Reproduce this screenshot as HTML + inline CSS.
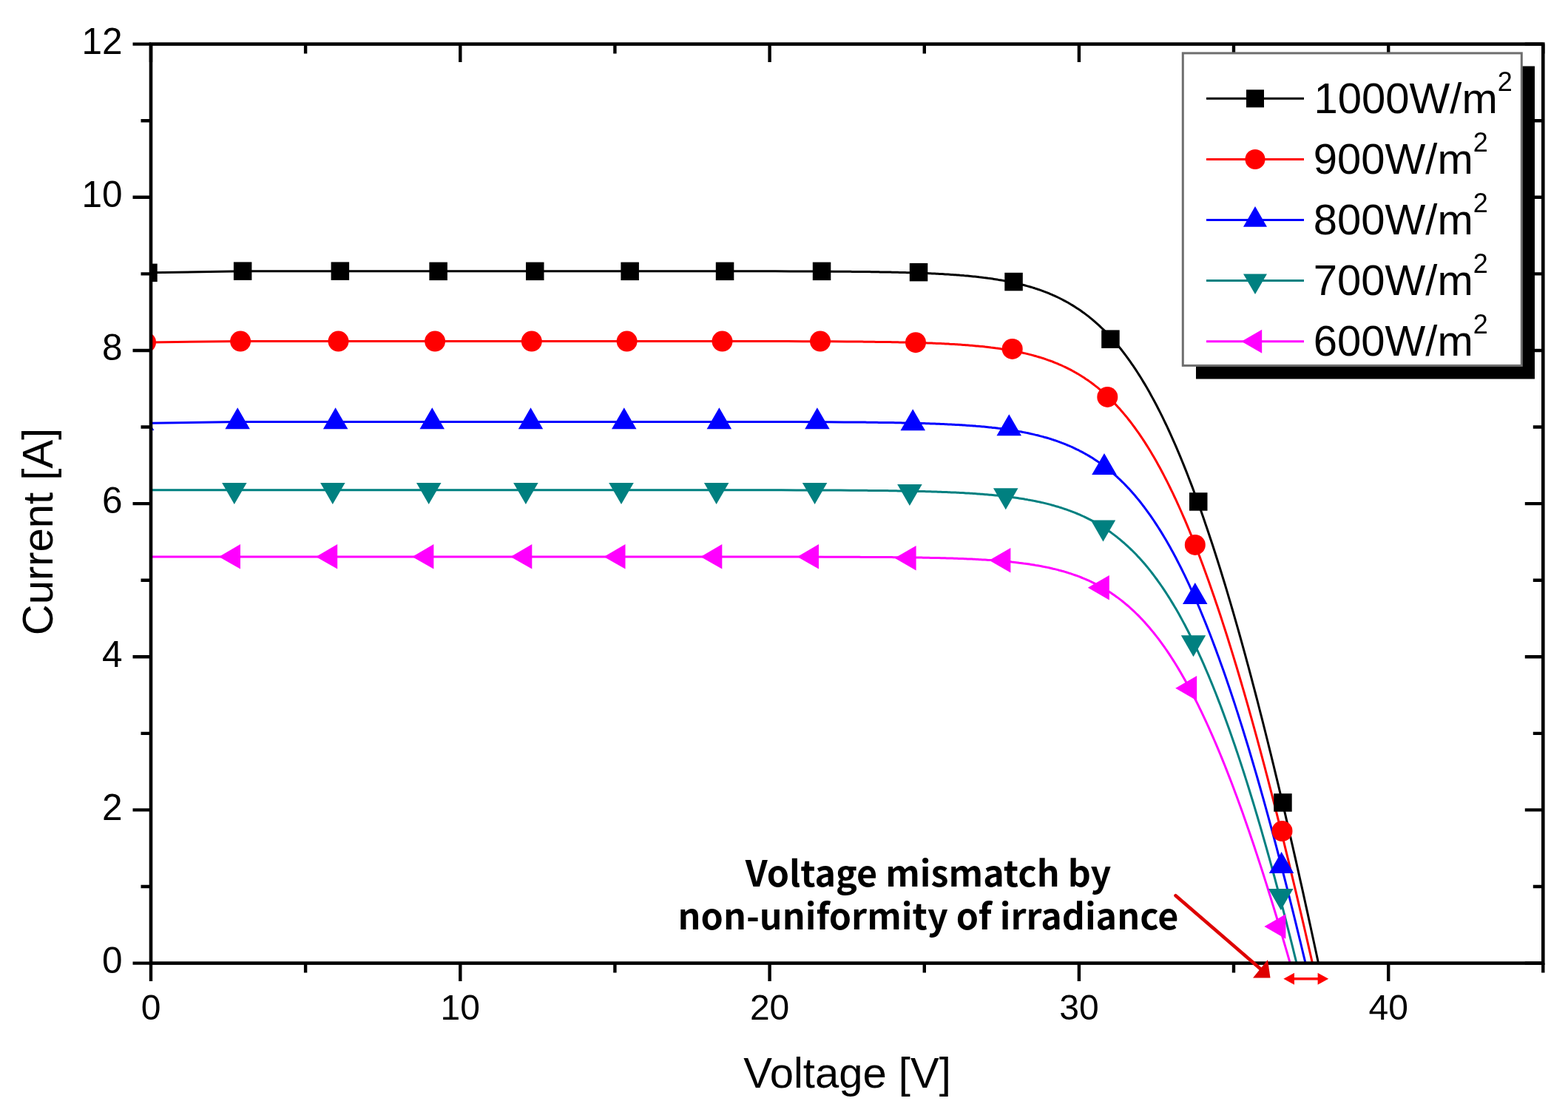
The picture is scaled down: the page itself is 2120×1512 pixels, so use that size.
<!DOCTYPE html><html><head><meta charset="utf-8"><title>I-V curves</title><style>html,body{margin:0;padding:0;background:#fff;overflow:hidden}svg{display:block}</style></head><body>
<svg width="2120" height="1512" viewBox="0 0 2120 1512">
<rect width="2120" height="1512" fill="#fff"/>
<defs><clipPath id="pc"><rect x="204.0" y="59.6" width="1882.3" height="1243.0"/></clipPath></defs>
<g clip-path="url(#pc)" fill="none" stroke-width="3" stroke-linejoin="round">
<path d="M200.5,368.8 L328.2,366.7 L348.2,366.7 L368.2,366.7 L388.2,366.7 L408.2,366.7 L428.2,366.7 L448.2,366.7 L468.2,366.7 L488.2,366.7 L508.2,366.7 L528.2,366.7 L548.2,366.7 L568.2,366.7 L588.2,366.7 L608.2,366.7 L628.2,366.7 L648.2,366.7 L668.2,366.7 L688.2,366.7 L708.2,366.7 L728.2,366.7 L748.2,366.7 L768.2,366.7 L788.2,366.7 L808.2,366.7 L828.2,366.7 L848.2,366.7 L868.2,366.7 L888.2,366.7 L908.2,366.7 L928.2,366.7 L948.2,366.7 L968.2,366.7 L988.2,366.7 L1008.2,366.8 L1028.2,366.8 L1048.2,366.8 L1068.2,366.9 L1088.2,366.9 L1108.2,367.0 L1128.2,367.2 L1148.2,367.3 L1150.0,367.3 L1152.0,367.4 L1154.0,367.4 L1156.0,367.4 L1158.0,367.4 L1160.0,367.4 L1162.0,367.5 L1164.0,367.5 L1166.0,367.5 L1168.0,367.5 L1170.0,367.6 L1172.0,367.6 L1174.0,367.6 L1176.0,367.6 L1178.0,367.7 L1180.0,367.7 L1182.0,367.7 L1184.0,367.8 L1186.0,367.8 L1188.0,367.8 L1190.0,367.9 L1192.0,367.9 L1194.0,367.9 L1196.0,368.0 L1198.0,368.0 L1200.0,368.0 L1202.0,368.1 L1204.0,368.1 L1206.0,368.2 L1208.0,368.2 L1210.0,368.2 L1212.0,368.3 L1214.0,368.3 L1216.0,368.4 L1218.0,368.4 L1220.0,368.5 L1222.0,368.5 L1224.0,368.6 L1226.0,368.7 L1228.0,368.7 L1230.0,368.8 L1232.0,368.8 L1234.0,368.9 L1236.0,369.0 L1238.0,369.0 L1240.0,369.1 L1242.0,369.2 L1244.0,369.2 L1246.0,369.3 L1248.0,369.4 L1250.0,369.5 L1252.0,369.6 L1254.0,369.6 L1256.0,369.7 L1258.0,369.8 L1260.0,369.9 L1262.0,370.0 L1264.0,370.1 L1266.0,370.2 L1268.0,370.3 L1270.0,370.4 L1272.0,370.5 L1274.0,370.6 L1276.0,370.7 L1278.0,370.9 L1280.0,371.0 L1282.0,371.1 L1284.0,371.2 L1286.0,371.4 L1288.0,371.5 L1290.0,371.7 L1292.0,371.8 L1294.0,371.9 L1296.0,372.1 L1298.0,372.3 L1300.0,372.4 L1302.0,372.6 L1304.0,372.8 L1306.0,372.9 L1308.0,373.1 L1310.0,373.3 L1312.0,373.5 L1314.0,373.7 L1316.0,373.9 L1318.0,374.1 L1320.0,374.3 L1322.0,374.5 L1324.0,374.8 L1326.0,375.0 L1328.0,375.2 L1330.0,375.5 L1332.0,375.7 L1334.0,376.0 L1336.0,376.3 L1338.0,376.5 L1340.0,376.8 L1342.0,377.1 L1344.0,377.4 L1346.0,377.7 L1348.0,378.0 L1350.0,378.4 L1352.0,378.7 L1354.0,379.0 L1356.0,379.4 L1358.0,379.8 L1360.0,380.1 L1362.0,380.5 L1364.0,380.9 L1366.0,381.3 L1368.0,381.7 L1370.0,382.2 L1372.0,382.6 L1374.0,383.0 L1376.0,383.5 L1378.0,384.0 L1380.0,384.5 L1382.0,385.0 L1384.0,385.5 L1386.0,386.0 L1388.0,386.6 L1390.0,387.1 L1392.0,387.7 L1394.0,388.3 L1396.0,388.9 L1398.0,389.5 L1400.0,390.2 L1402.0,390.8 L1404.0,391.5 L1406.0,392.2 L1408.0,392.9 L1410.0,393.6 L1412.0,394.4 L1414.0,395.1 L1416.0,395.9 L1418.0,396.7 L1420.0,397.6 L1422.0,398.4 L1424.0,399.3 L1426.0,400.2 L1428.0,401.1 L1430.0,402.0 L1432.0,403.0 L1434.0,404.0 L1436.0,405.0 L1438.0,406.1 L1440.0,407.1 L1442.0,408.2 L1444.0,409.3 L1446.0,410.5 L1448.0,411.7 L1450.0,412.9 L1452.0,414.1 L1454.0,415.4 L1456.0,416.7 L1458.0,418.0 L1460.0,419.3 L1462.0,420.7 L1464.0,422.2 L1466.0,423.6 L1468.0,425.1 L1470.0,426.6 L1472.0,428.2 L1474.0,429.8 L1476.0,431.4 L1478.0,433.1 L1480.0,434.8 L1482.0,436.6 L1484.0,438.4 L1486.0,440.2 L1488.0,442.1 L1490.0,444.0 L1492.0,445.9 L1494.0,447.9 L1496.0,450.0 L1498.0,452.0 L1500.0,454.2 L1502.0,456.3 L1504.0,458.6 L1506.0,460.8 L1508.0,463.1 L1510.0,465.5 L1512.0,467.9 L1514.0,470.3 L1516.0,472.8 L1518.0,475.4 L1520.0,478.0 L1522.0,480.6 L1524.0,483.3 L1526.0,486.1 L1528.0,488.9 L1530.0,491.8 L1532.0,494.7 L1534.0,497.6 L1536.0,500.6 L1538.0,503.7 L1540.0,506.9 L1542.0,510.0 L1544.0,513.3 L1546.0,516.6 L1548.0,519.9 L1550.0,523.3 L1552.0,526.8 L1554.0,530.3 L1556.0,533.9 L1558.0,537.6 L1560.0,541.3 L1562.0,545.0 L1564.0,548.8 L1566.0,552.7 L1568.0,556.6 L1570.0,560.6 L1572.0,564.7 L1574.0,568.8 L1576.0,573.0 L1578.0,577.2 L1580.0,581.5 L1582.0,585.9 L1584.0,590.3 L1586.0,594.8 L1588.0,599.3 L1590.0,603.9 L1592.0,608.6 L1594.0,613.3 L1596.0,618.1 L1598.0,623.0 L1600.0,627.9 L1602.0,632.9 L1604.0,637.9 L1606.0,643.0 L1608.0,648.2 L1610.0,653.4 L1612.0,658.6 L1614.0,664.0 L1616.0,669.4 L1618.0,674.8 L1620.0,680.4 L1622.0,685.9 L1624.0,691.6 L1626.0,697.3 L1628.0,703.0 L1630.0,708.9 L1632.0,714.7 L1634.0,720.7 L1636.0,726.7 L1638.0,732.7 L1640.0,738.8 L1642.0,745.0 L1644.0,751.2 L1646.0,757.5 L1648.0,763.9 L1650.0,770.3 L1652.0,776.7 L1654.0,783.2 L1656.0,789.8 L1658.0,796.4 L1660.0,803.1 L1662.0,809.9 L1664.0,816.6 L1666.0,823.5 L1668.0,830.4 L1670.0,837.3 L1672.0,844.3 L1674.0,851.4 L1676.0,858.5 L1678.0,865.7 L1680.0,872.9 L1682.0,880.1 L1684.0,887.4 L1686.0,894.8 L1688.0,902.2 L1690.0,909.7 L1692.0,917.2 L1694.0,924.8 L1696.0,932.4 L1698.0,940.0 L1700.0,947.7 L1702.0,955.5 L1704.0,963.3 L1706.0,971.1 L1708.0,979.0 L1710.0,987.0 L1712.0,995.0 L1714.0,1003.0 L1716.0,1011.1 L1718.0,1019.2 L1720.0,1027.3 L1722.0,1035.5 L1724.0,1043.8 L1726.0,1052.1 L1728.0,1060.4 L1730.0,1068.8 L1732.0,1077.2 L1734.0,1085.7 L1736.0,1094.2 L1738.0,1102.7 L1740.0,1111.3 L1742.0,1119.9 L1744.0,1128.6 L1746.0,1137.3 L1748.0,1146.0 L1750.0,1154.8 L1752.0,1163.6 L1754.0,1172.5 L1756.0,1181.3 L1758.0,1190.3 L1760.0,1199.2 L1762.0,1208.2 L1764.0,1217.3 L1766.0,1226.3 L1768.0,1235.4 L1770.0,1244.6 L1772.0,1253.8 L1774.0,1263.0 L1776.0,1272.2 L1778.0,1281.5 L1780.0,1290.8 L1782.0,1300.1 L1784.0,1309.5 L1786.0,1318.9" stroke="#000000"/>
<path d="M197.0,463.0 L325.1,461.5 L345.1,461.5 L365.1,461.5 L385.1,461.5 L405.1,461.5 L425.1,461.5 L445.1,461.5 L465.1,461.5 L485.1,461.5 L505.1,461.5 L525.1,461.5 L545.1,461.5 L565.1,461.5 L585.1,461.5 L605.1,461.5 L625.1,461.5 L645.1,461.5 L665.1,461.5 L685.1,461.5 L705.1,461.5 L725.1,461.5 L745.1,461.5 L765.1,461.5 L785.1,461.5 L805.1,461.5 L825.1,461.5 L845.1,461.5 L865.1,461.5 L885.1,461.5 L905.1,461.5 L925.1,461.5 L945.1,461.5 L965.1,461.5 L985.1,461.5 L1005.1,461.5 L1025.1,461.6 L1045.1,461.6 L1065.1,461.6 L1085.1,461.7 L1105.1,461.7 L1125.1,461.8 L1145.1,462.0 L1150.0,462.0 L1152.0,462.0 L1154.0,462.0 L1156.0,462.1 L1158.0,462.1 L1160.0,462.1 L1162.0,462.1 L1164.0,462.1 L1166.0,462.1 L1168.0,462.2 L1170.0,462.2 L1172.0,462.2 L1174.0,462.2 L1176.0,462.3 L1178.0,462.3 L1180.0,462.3 L1182.0,462.3 L1184.0,462.4 L1186.0,462.4 L1188.0,462.4 L1190.0,462.4 L1192.0,462.5 L1194.0,462.5 L1196.0,462.5 L1198.0,462.5 L1200.0,462.6 L1202.0,462.6 L1204.0,462.6 L1206.0,462.7 L1208.0,462.7 L1210.0,462.8 L1212.0,462.8 L1214.0,462.8 L1216.0,462.9 L1218.0,462.9 L1220.0,463.0 L1222.0,463.0 L1224.0,463.0 L1226.0,463.1 L1228.0,463.1 L1230.0,463.2 L1232.0,463.2 L1234.0,463.3 L1236.0,463.4 L1238.0,463.4 L1240.0,463.5 L1242.0,463.5 L1244.0,463.6 L1246.0,463.6 L1248.0,463.7 L1250.0,463.8 L1252.0,463.8 L1254.0,463.9 L1256.0,464.0 L1258.0,464.1 L1260.0,464.1 L1262.0,464.2 L1264.0,464.3 L1266.0,464.4 L1268.0,464.5 L1270.0,464.6 L1272.0,464.6 L1274.0,464.7 L1276.0,464.8 L1278.0,464.9 L1280.0,465.0 L1282.0,465.1 L1284.0,465.3 L1286.0,465.4 L1288.0,465.5 L1290.0,465.6 L1292.0,465.7 L1294.0,465.8 L1296.0,466.0 L1298.0,466.1 L1300.0,466.2 L1302.0,466.4 L1304.0,466.5 L1306.0,466.7 L1308.0,466.8 L1310.0,467.0 L1312.0,467.2 L1314.0,467.3 L1316.0,467.5 L1318.0,467.7 L1320.0,467.9 L1322.0,468.0 L1324.0,468.2 L1326.0,468.4 L1328.0,468.6 L1330.0,468.8 L1332.0,469.1 L1334.0,469.3 L1336.0,469.5 L1338.0,469.7 L1340.0,470.0 L1342.0,470.2 L1344.0,470.5 L1346.0,470.8 L1348.0,471.0 L1350.0,471.3 L1352.0,471.6 L1354.0,471.9 L1356.0,472.2 L1358.0,472.5 L1360.0,472.8 L1362.0,473.2 L1364.0,473.5 L1366.0,473.8 L1368.0,474.2 L1370.0,474.6 L1372.0,475.0 L1374.0,475.3 L1376.0,475.7 L1378.0,476.2 L1380.0,476.6 L1382.0,477.0 L1384.0,477.5 L1386.0,477.9 L1388.0,478.4 L1390.0,478.9 L1392.0,479.4 L1394.0,479.9 L1396.0,480.4 L1398.0,481.0 L1400.0,481.5 L1402.0,482.1 L1404.0,482.7 L1406.0,483.3 L1408.0,483.9 L1410.0,484.5 L1412.0,485.2 L1414.0,485.9 L1416.0,486.6 L1418.0,487.3 L1420.0,488.0 L1422.0,488.7 L1424.0,489.5 L1426.0,490.3 L1428.0,491.1 L1430.0,491.9 L1432.0,492.8 L1434.0,493.6 L1436.0,494.5 L1438.0,495.5 L1440.0,496.4 L1442.0,497.4 L1444.0,498.4 L1446.0,499.4 L1448.0,500.4 L1450.0,501.5 L1452.0,502.6 L1454.0,503.7 L1456.0,504.9 L1458.0,506.0 L1460.0,507.2 L1462.0,508.5 L1464.0,509.7 L1466.0,511.0 L1468.0,512.4 L1470.0,513.7 L1472.0,515.1 L1474.0,516.6 L1476.0,518.0 L1478.0,519.5 L1480.0,521.1 L1482.0,522.6 L1484.0,524.2 L1486.0,525.9 L1488.0,527.6 L1490.0,529.3 L1492.0,531.0 L1494.0,532.8 L1496.0,534.7 L1498.0,536.6 L1500.0,538.5 L1502.0,540.4 L1504.0,542.4 L1506.0,544.5 L1508.0,546.6 L1510.0,548.7 L1512.0,550.9 L1514.0,553.1 L1516.0,555.4 L1518.0,557.7 L1520.0,560.1 L1522.0,562.5 L1524.0,564.9 L1526.0,567.5 L1528.0,570.0 L1530.0,572.6 L1532.0,575.3 L1534.0,578.0 L1536.0,580.8 L1538.0,583.6 L1540.0,586.4 L1542.0,589.4 L1544.0,592.3 L1546.0,595.4 L1548.0,598.4 L1550.0,601.6 L1552.0,604.8 L1554.0,608.0 L1556.0,611.3 L1558.0,614.7 L1560.0,618.1 L1562.0,621.6 L1564.0,625.1 L1566.0,628.7 L1568.0,632.3 L1570.0,636.0 L1572.0,639.8 L1574.0,643.6 L1576.0,647.5 L1578.0,651.4 L1580.0,655.4 L1582.0,659.5 L1584.0,663.6 L1586.0,667.7 L1588.0,672.0 L1590.0,676.2 L1592.0,680.6 L1594.0,685.0 L1596.0,689.5 L1598.0,694.0 L1600.0,698.6 L1602.0,703.2 L1604.0,707.9 L1606.0,712.7 L1608.0,717.5 L1610.0,722.4 L1612.0,727.3 L1614.0,732.3 L1616.0,737.4 L1618.0,742.5 L1620.0,747.7 L1622.0,752.9 L1624.0,758.2 L1626.0,763.6 L1628.0,769.0 L1630.0,774.5 L1632.0,780.0 L1634.0,785.6 L1636.0,791.2 L1638.0,796.9 L1640.0,802.7 L1642.0,808.5 L1644.0,814.4 L1646.0,820.3 L1648.0,826.3 L1650.0,832.3 L1652.0,838.4 L1654.0,844.6 L1656.0,850.8 L1658.0,857.0 L1660.0,863.3 L1662.0,869.7 L1664.0,876.1 L1666.0,882.6 L1668.0,889.1 L1670.0,895.7 L1672.0,902.3 L1674.0,909.0 L1676.0,915.7 L1678.0,922.5 L1680.0,929.4 L1682.0,936.2 L1684.0,943.2 L1686.0,950.2 L1688.0,957.2 L1690.0,964.3 L1692.0,971.4 L1694.0,978.6 L1696.0,985.8 L1698.0,993.1 L1700.0,1000.4 L1702.0,1007.8 L1704.0,1015.2 L1706.0,1022.6 L1708.0,1030.1 L1710.0,1037.7 L1712.0,1045.3 L1714.0,1052.9 L1716.0,1060.6 L1718.0,1068.3 L1720.0,1076.1 L1722.0,1083.9 L1724.0,1091.7 L1726.0,1099.6 L1728.0,1107.6 L1730.0,1115.5 L1732.0,1123.6 L1734.0,1131.6 L1736.0,1139.7 L1738.0,1147.8 L1740.0,1156.0 L1742.0,1164.2 L1744.0,1172.5 L1746.0,1180.8 L1748.0,1189.1 L1750.0,1197.5 L1752.0,1205.9 L1754.0,1214.3 L1756.0,1222.8 L1758.0,1231.3 L1760.0,1239.8 L1762.0,1248.4 L1764.0,1257.0 L1766.0,1265.7 L1768.0,1274.4 L1770.0,1283.1 L1772.0,1291.8 L1774.0,1300.6 L1776.0,1309.5 L1778.0,1318.3" stroke="#ff0000"/>
<path d="M191.7,572.4 L321.2,570.4 L341.2,570.4 L361.2,570.4 L381.2,570.4 L401.2,570.4 L421.2,570.4 L441.2,570.4 L461.2,570.4 L481.2,570.4 L501.2,570.4 L521.2,570.4 L541.2,570.4 L561.2,570.4 L581.2,570.4 L601.2,570.4 L621.2,570.4 L641.2,570.4 L661.2,570.4 L681.2,570.4 L701.2,570.4 L721.2,570.4 L741.2,570.4 L761.2,570.4 L781.2,570.4 L801.2,570.4 L821.2,570.4 L841.2,570.4 L861.2,570.4 L881.2,570.4 L901.2,570.5 L921.2,570.5 L941.2,570.5 L961.2,570.5 L981.2,570.5 L1001.2,570.5 L1021.2,570.5 L1041.2,570.6 L1061.2,570.6 L1081.2,570.6 L1101.2,570.7 L1121.2,570.8 L1141.2,570.9 L1150.0,571.0 L1152.0,571.0 L1154.0,571.0 L1156.0,571.0 L1158.0,571.0 L1160.0,571.1 L1162.0,571.1 L1164.0,571.1 L1166.0,571.1 L1168.0,571.1 L1170.0,571.1 L1172.0,571.2 L1174.0,571.2 L1176.0,571.2 L1178.0,571.2 L1180.0,571.3 L1182.0,571.3 L1184.0,571.3 L1186.0,571.3 L1188.0,571.4 L1190.0,571.4 L1192.0,571.4 L1194.0,571.4 L1196.0,571.5 L1198.0,571.5 L1200.0,571.5 L1202.0,571.6 L1204.0,571.6 L1206.0,571.6 L1208.0,571.6 L1210.0,571.7 L1212.0,571.7 L1214.0,571.8 L1216.0,571.8 L1218.0,571.8 L1220.0,571.9 L1222.0,571.9 L1224.0,572.0 L1226.0,572.0 L1228.0,572.0 L1230.0,572.1 L1232.0,572.1 L1234.0,572.2 L1236.0,572.2 L1238.0,572.3 L1240.0,572.3 L1242.0,572.4 L1244.0,572.4 L1246.0,572.5 L1248.0,572.6 L1250.0,572.6 L1252.0,572.7 L1254.0,572.8 L1256.0,572.8 L1258.0,572.9 L1260.0,573.0 L1262.0,573.0 L1264.0,573.1 L1266.0,573.2 L1268.0,573.3 L1270.0,573.3 L1272.0,573.4 L1274.0,573.5 L1276.0,573.6 L1278.0,573.7 L1280.0,573.8 L1282.0,573.9 L1284.0,574.0 L1286.0,574.1 L1288.0,574.2 L1290.0,574.3 L1292.0,574.4 L1294.0,574.5 L1296.0,574.6 L1298.0,574.7 L1300.0,574.8 L1302.0,575.0 L1304.0,575.1 L1306.0,575.2 L1308.0,575.4 L1310.0,575.5 L1312.0,575.7 L1314.0,575.8 L1316.0,576.0 L1318.0,576.1 L1320.0,576.3 L1322.0,576.4 L1324.0,576.6 L1326.0,576.8 L1328.0,577.0 L1330.0,577.1 L1332.0,577.3 L1334.0,577.5 L1336.0,577.7 L1338.0,577.9 L1340.0,578.1 L1342.0,578.4 L1344.0,578.6 L1346.0,578.8 L1348.0,579.0 L1350.0,579.3 L1352.0,579.5 L1354.0,579.8 L1356.0,580.1 L1358.0,580.3 L1360.0,580.6 L1362.0,580.9 L1364.0,581.2 L1366.0,581.5 L1368.0,581.8 L1370.0,582.1 L1372.0,582.4 L1374.0,582.8 L1376.0,583.1 L1378.0,583.5 L1380.0,583.8 L1382.0,584.2 L1384.0,584.6 L1386.0,585.0 L1388.0,585.4 L1390.0,585.8 L1392.0,586.2 L1394.0,586.7 L1396.0,587.1 L1398.0,587.6 L1400.0,588.1 L1402.0,588.5 L1404.0,589.0 L1406.0,589.6 L1408.0,590.1 L1410.0,590.6 L1412.0,591.2 L1414.0,591.7 L1416.0,592.3 L1418.0,592.9 L1420.0,593.5 L1422.0,594.2 L1424.0,594.8 L1426.0,595.5 L1428.0,596.2 L1430.0,596.9 L1432.0,597.6 L1434.0,598.3 L1436.0,599.1 L1438.0,599.8 L1440.0,600.6 L1442.0,601.5 L1444.0,602.3 L1446.0,603.1 L1448.0,604.0 L1450.0,604.9 L1452.0,605.8 L1454.0,606.8 L1456.0,607.8 L1458.0,608.7 L1460.0,609.8 L1462.0,610.8 L1464.0,611.9 L1466.0,613.0 L1468.0,614.1 L1470.0,615.2 L1472.0,616.4 L1474.0,617.6 L1476.0,618.8 L1478.0,620.1 L1480.0,621.4 L1482.0,622.7 L1484.0,624.1 L1486.0,625.4 L1488.0,626.9 L1490.0,628.3 L1492.0,629.8 L1494.0,631.3 L1496.0,632.9 L1498.0,634.4 L1500.0,636.1 L1502.0,637.7 L1504.0,639.4 L1506.0,641.1 L1508.0,642.9 L1510.0,644.7 L1512.0,646.6 L1514.0,648.4 L1516.0,650.4 L1518.0,652.3 L1520.0,654.3 L1522.0,656.4 L1524.0,658.5 L1526.0,660.6 L1528.0,662.8 L1530.0,665.0 L1532.0,667.3 L1534.0,669.6 L1536.0,672.0 L1538.0,674.4 L1540.0,676.8 L1542.0,679.3 L1544.0,681.9 L1546.0,684.5 L1548.0,687.1 L1550.0,689.8 L1552.0,692.6 L1554.0,695.3 L1556.0,698.2 L1558.0,701.1 L1560.0,704.0 L1562.0,707.1 L1564.0,710.1 L1566.0,713.2 L1568.0,716.4 L1570.0,719.6 L1572.0,722.9 L1574.0,726.2 L1576.0,729.6 L1578.0,733.0 L1580.0,736.5 L1582.0,740.1 L1584.0,743.7 L1586.0,747.3 L1588.0,751.0 L1590.0,754.8 L1592.0,758.7 L1594.0,762.6 L1596.0,766.5 L1598.0,770.5 L1600.0,774.6 L1602.0,778.7 L1604.0,782.9 L1606.0,787.1 L1608.0,791.4 L1610.0,795.8 L1612.0,800.2 L1614.0,804.7 L1616.0,809.2 L1618.0,813.8 L1620.0,818.5 L1622.0,823.2 L1624.0,828.0 L1626.0,832.8 L1628.0,837.7 L1630.0,842.6 L1632.0,847.6 L1634.0,852.7 L1636.0,857.8 L1638.0,863.0 L1640.0,868.3 L1642.0,873.6 L1644.0,878.9 L1646.0,884.4 L1648.0,889.8 L1650.0,895.4 L1652.0,901.0 L1654.0,906.6 L1656.0,912.3 L1658.0,918.1 L1660.0,923.9 L1662.0,929.8 L1664.0,935.8 L1666.0,941.7 L1668.0,947.8 L1670.0,953.9 L1672.0,960.1 L1674.0,966.3 L1676.0,972.6 L1678.0,978.9 L1680.0,985.3 L1682.0,991.7 L1684.0,998.2 L1686.0,1004.8 L1688.0,1011.3 L1690.0,1018.0 L1692.0,1024.7 L1694.0,1031.5 L1696.0,1038.3 L1698.0,1045.1 L1700.0,1052.0 L1702.0,1059.0 L1704.0,1066.0 L1706.0,1073.1 L1708.0,1080.2 L1710.0,1087.4 L1712.0,1094.6 L1714.0,1101.8 L1716.0,1109.1 L1718.0,1116.5 L1720.0,1123.9 L1722.0,1131.4 L1724.0,1138.9 L1726.0,1146.4 L1728.0,1154.0 L1730.0,1161.6 L1732.0,1169.3 L1734.0,1177.1 L1736.0,1184.8 L1738.0,1192.6 L1740.0,1200.5 L1742.0,1208.4 L1744.0,1216.4 L1746.0,1224.4 L1748.0,1232.4 L1750.0,1240.5 L1752.0,1248.6 L1754.0,1256.8 L1756.0,1265.0 L1758.0,1273.2 L1760.0,1281.5 L1762.0,1289.8 L1764.0,1298.2 L1766.0,1306.6 L1768.0,1315.0" stroke="#0000ff"/>
<path d="M185.0,662.7 L316.8,662.7 L336.8,662.7 L356.8,662.7 L376.8,662.7 L396.8,662.7 L416.8,662.7 L436.8,662.7 L456.8,662.7 L476.8,662.7 L496.8,662.7 L516.8,662.7 L536.8,662.7 L556.8,662.7 L576.8,662.7 L596.8,662.7 L616.8,662.7 L636.8,662.7 L656.8,662.7 L676.8,662.7 L696.8,662.7 L716.8,662.7 L736.8,662.7 L756.8,662.7 L776.8,662.7 L796.8,662.7 L816.8,662.7 L836.8,662.7 L856.8,662.7 L876.8,662.7 L896.8,662.7 L916.8,662.7 L936.8,662.7 L956.8,662.7 L976.8,662.7 L996.8,662.7 L1016.8,662.8 L1036.8,662.8 L1056.8,662.8 L1076.8,662.9 L1096.8,662.9 L1116.8,663.0 L1136.8,663.1 L1150.0,663.2 L1152.0,663.2 L1154.0,663.2 L1156.0,663.2 L1158.0,663.2 L1160.0,663.2 L1162.0,663.3 L1164.0,663.3 L1166.0,663.3 L1168.0,663.3 L1170.0,663.3 L1172.0,663.3 L1174.0,663.4 L1176.0,663.4 L1178.0,663.4 L1180.0,663.4 L1182.0,663.4 L1184.0,663.5 L1186.0,663.5 L1188.0,663.5 L1190.0,663.5 L1192.0,663.5 L1194.0,663.6 L1196.0,663.6 L1198.0,663.6 L1200.0,663.6 L1202.0,663.7 L1204.0,663.7 L1206.0,663.7 L1208.0,663.8 L1210.0,663.8 L1212.0,663.8 L1214.0,663.9 L1216.0,663.9 L1218.0,663.9 L1220.0,664.0 L1222.0,664.0 L1224.0,664.0 L1226.0,664.1 L1228.0,664.1 L1230.0,664.1 L1232.0,664.2 L1234.0,664.2 L1236.0,664.3 L1238.0,664.3 L1240.0,664.4 L1242.0,664.4 L1244.0,664.5 L1246.0,664.5 L1248.0,664.6 L1250.0,664.6 L1252.0,664.7 L1254.0,664.7 L1256.0,664.8 L1258.0,664.8 L1260.0,664.9 L1262.0,665.0 L1264.0,665.0 L1266.0,665.1 L1268.0,665.2 L1270.0,665.2 L1272.0,665.3 L1274.0,665.4 L1276.0,665.4 L1278.0,665.5 L1280.0,665.6 L1282.0,665.7 L1284.0,665.8 L1286.0,665.9 L1288.0,665.9 L1290.0,666.0 L1292.0,666.1 L1294.0,666.2 L1296.0,666.3 L1298.0,666.4 L1300.0,666.5 L1302.0,666.6 L1304.0,666.7 L1306.0,666.9 L1308.0,667.0 L1310.0,667.1 L1312.0,667.2 L1314.0,667.3 L1316.0,667.5 L1318.0,667.6 L1320.0,667.7 L1322.0,667.9 L1324.0,668.0 L1326.0,668.2 L1328.0,668.3 L1330.0,668.5 L1332.0,668.7 L1334.0,668.8 L1336.0,669.0 L1338.0,669.2 L1340.0,669.3 L1342.0,669.5 L1344.0,669.7 L1346.0,669.9 L1348.0,670.1 L1350.0,670.3 L1352.0,670.5 L1354.0,670.8 L1356.0,671.0 L1358.0,671.2 L1360.0,671.4 L1362.0,671.7 L1364.0,671.9 L1366.0,672.2 L1368.0,672.5 L1370.0,672.7 L1372.0,673.0 L1374.0,673.3 L1376.0,673.6 L1378.0,673.9 L1380.0,674.2 L1382.0,674.5 L1384.0,674.8 L1386.0,675.2 L1388.0,675.5 L1390.0,675.9 L1392.0,676.2 L1394.0,676.6 L1396.0,677.0 L1398.0,677.4 L1400.0,677.8 L1402.0,678.2 L1404.0,678.6 L1406.0,679.0 L1408.0,679.5 L1410.0,679.9 L1412.0,680.4 L1414.0,680.9 L1416.0,681.4 L1418.0,681.9 L1420.0,682.4 L1422.0,683.0 L1424.0,683.5 L1426.0,684.1 L1428.0,684.7 L1430.0,685.2 L1432.0,685.9 L1434.0,686.5 L1436.0,687.1 L1438.0,687.8 L1440.0,688.5 L1442.0,689.1 L1444.0,689.9 L1446.0,690.6 L1448.0,691.3 L1450.0,692.1 L1452.0,692.9 L1454.0,693.7 L1456.0,694.5 L1458.0,695.3 L1460.0,696.2 L1462.0,697.1 L1464.0,698.0 L1466.0,698.9 L1468.0,699.9 L1470.0,700.9 L1472.0,701.9 L1474.0,702.9 L1476.0,703.9 L1478.0,705.0 L1480.0,706.1 L1482.0,707.3 L1484.0,708.4 L1486.0,709.6 L1488.0,710.8 L1490.0,712.0 L1492.0,713.3 L1494.0,714.6 L1496.0,716.0 L1498.0,717.3 L1500.0,718.7 L1502.0,720.1 L1504.0,721.6 L1506.0,723.1 L1508.0,724.6 L1510.0,726.2 L1512.0,727.8 L1514.0,729.4 L1516.0,731.1 L1518.0,732.8 L1520.0,734.5 L1522.0,736.3 L1524.0,738.1 L1526.0,740.0 L1528.0,741.9 L1530.0,743.8 L1532.0,745.8 L1534.0,747.8 L1536.0,749.8 L1538.0,752.0 L1540.0,754.1 L1542.0,756.3 L1544.0,758.5 L1546.0,760.8 L1548.0,763.1 L1550.0,765.5 L1552.0,767.9 L1554.0,770.4 L1556.0,772.9 L1558.0,775.5 L1560.0,778.1 L1562.0,780.8 L1564.0,783.5 L1566.0,786.3 L1568.0,789.1 L1570.0,792.0 L1572.0,794.9 L1574.0,797.9 L1576.0,800.9 L1578.0,804.0 L1580.0,807.1 L1582.0,810.3 L1584.0,813.6 L1586.0,816.9 L1588.0,820.2 L1590.0,823.6 L1592.0,827.1 L1594.0,830.6 L1596.0,834.2 L1598.0,837.9 L1600.0,841.6 L1602.0,845.3 L1604.0,849.2 L1606.0,853.0 L1608.0,857.0 L1610.0,861.0 L1612.0,865.0 L1614.0,869.2 L1616.0,873.4 L1618.0,877.6 L1620.0,881.9 L1622.0,886.3 L1624.0,890.7 L1626.0,895.2 L1628.0,899.7 L1630.0,904.3 L1632.0,909.0 L1634.0,913.7 L1636.0,918.5 L1638.0,923.4 L1640.0,928.3 L1642.0,933.3 L1644.0,938.3 L1646.0,943.4 L1648.0,948.6 L1650.0,953.8 L1652.0,959.1 L1654.0,964.5 L1656.0,969.9 L1658.0,975.4 L1660.0,980.9 L1662.0,986.5 L1664.0,992.2 L1666.0,997.9 L1668.0,1003.7 L1670.0,1009.5 L1672.0,1015.4 L1674.0,1021.4 L1676.0,1027.4 L1678.0,1033.5 L1680.0,1039.6 L1682.0,1045.8 L1684.0,1052.1 L1686.0,1058.4 L1688.0,1064.8 L1690.0,1071.2 L1692.0,1077.7 L1694.0,1084.3 L1696.0,1090.9 L1698.0,1097.6 L1700.0,1104.3 L1702.0,1111.1 L1704.0,1117.9 L1706.0,1124.8 L1708.0,1131.8 L1710.0,1138.8 L1712.0,1145.9 L1714.0,1153.0 L1716.0,1160.2 L1718.0,1167.4 L1720.0,1174.7 L1722.0,1182.0 L1724.0,1189.4 L1726.0,1196.9 L1728.0,1204.4 L1730.0,1211.9 L1732.0,1219.5 L1734.0,1227.2 L1736.0,1234.9 L1738.0,1242.7 L1740.0,1250.5 L1742.0,1258.3 L1744.0,1266.2 L1746.0,1274.2 L1748.0,1282.2 L1750.0,1290.3 L1752.0,1298.4 L1754.0,1306.5 L1756.0,1314.7" stroke="#008080"/>
<path d="M180.0,752.9 L315.3,753.0 L335.3,753.0 L355.3,753.0 L375.3,753.0 L395.3,753.0 L415.3,753.0 L435.3,753.0 L455.3,753.0 L475.3,753.0 L495.3,753.0 L515.3,753.0 L535.3,753.0 L555.3,753.0 L575.3,753.0 L595.3,753.0 L615.3,753.0 L635.3,753.0 L655.3,753.0 L675.3,753.0 L695.3,753.0 L715.3,753.0 L735.3,753.0 L755.3,753.0 L775.3,753.0 L795.3,753.0 L815.3,753.0 L835.3,753.0 L855.3,753.0 L875.3,753.0 L895.3,753.0 L915.3,753.0 L935.3,753.0 L955.3,753.0 L975.3,753.1 L995.3,753.1 L1015.3,753.1 L1035.3,753.1 L1055.3,753.1 L1075.3,753.1 L1095.3,753.1 L1115.3,753.2 L1135.3,753.2 L1150.0,753.3 L1152.0,753.3 L1154.0,753.3 L1156.0,753.3 L1158.0,753.3 L1160.0,753.3 L1162.0,753.3 L1164.0,753.4 L1166.0,753.4 L1168.0,753.4 L1170.0,753.4 L1172.0,753.4 L1174.0,753.4 L1176.0,753.4 L1178.0,753.4 L1180.0,753.4 L1182.0,753.5 L1184.0,753.5 L1186.0,753.5 L1188.0,753.5 L1190.0,753.5 L1192.0,753.5 L1194.0,753.5 L1196.0,753.6 L1198.0,753.6 L1200.0,753.6 L1202.0,753.6 L1204.0,753.6 L1206.0,753.6 L1208.0,753.7 L1210.0,753.7 L1212.0,753.7 L1214.0,753.7 L1216.0,753.7 L1218.0,753.8 L1220.0,753.8 L1222.0,753.8 L1224.0,753.8 L1226.0,753.8 L1228.0,753.9 L1230.0,753.9 L1232.0,753.9 L1234.0,754.0 L1236.0,754.0 L1238.0,754.0 L1240.0,754.0 L1242.0,754.1 L1244.0,754.1 L1246.0,754.1 L1248.0,754.2 L1250.0,754.2 L1252.0,754.2 L1254.0,754.3 L1256.0,754.3 L1258.0,754.4 L1260.0,754.4 L1262.0,754.4 L1264.0,754.5 L1266.0,754.5 L1268.0,754.6 L1270.0,754.6 L1272.0,754.7 L1274.0,754.7 L1276.0,754.8 L1278.0,754.8 L1280.0,754.9 L1282.0,754.9 L1284.0,755.0 L1286.0,755.1 L1288.0,755.1 L1290.0,755.2 L1292.0,755.3 L1294.0,755.3 L1296.0,755.4 L1298.0,755.5 L1300.0,755.5 L1302.0,755.6 L1304.0,755.7 L1306.0,755.8 L1308.0,755.9 L1310.0,756.0 L1312.0,756.1 L1314.0,756.1 L1316.0,756.2 L1318.0,756.3 L1320.0,756.4 L1322.0,756.5 L1324.0,756.7 L1326.0,756.8 L1328.0,756.9 L1330.0,757.0 L1332.0,757.1 L1334.0,757.2 L1336.0,757.4 L1338.0,757.5 L1340.0,757.6 L1342.0,757.8 L1344.0,757.9 L1346.0,758.1 L1348.0,758.2 L1350.0,758.4 L1352.0,758.6 L1354.0,758.7 L1356.0,758.9 L1358.0,759.1 L1360.0,759.3 L1362.0,759.5 L1364.0,759.6 L1366.0,759.8 L1368.0,760.1 L1370.0,760.3 L1372.0,760.5 L1374.0,760.7 L1376.0,760.9 L1378.0,761.2 L1380.0,761.4 L1382.0,761.7 L1384.0,762.0 L1386.0,762.2 L1388.0,762.5 L1390.0,762.8 L1392.0,763.1 L1394.0,763.4 L1396.0,763.7 L1398.0,764.0 L1400.0,764.4 L1402.0,764.7 L1404.0,765.0 L1406.0,765.4 L1408.0,765.8 L1410.0,766.2 L1412.0,766.6 L1414.0,767.0 L1416.0,767.4 L1418.0,767.8 L1420.0,768.2 L1422.0,768.7 L1424.0,769.2 L1426.0,769.6 L1428.0,770.1 L1430.0,770.6 L1432.0,771.2 L1434.0,771.7 L1436.0,772.3 L1438.0,772.8 L1440.0,773.4 L1442.0,774.0 L1444.0,774.6 L1446.0,775.3 L1448.0,775.9 L1450.0,776.6 L1452.0,777.3 L1454.0,778.0 L1456.0,778.7 L1458.0,779.4 L1460.0,780.2 L1462.0,781.0 L1464.0,781.8 L1466.0,782.6 L1468.0,783.5 L1470.0,784.3 L1472.0,785.2 L1474.0,786.2 L1476.0,787.1 L1478.0,788.1 L1480.0,789.1 L1482.0,790.1 L1484.0,791.1 L1486.0,792.2 L1488.0,793.3 L1490.0,794.4 L1492.0,795.6 L1494.0,796.8 L1496.0,798.0 L1498.0,799.3 L1500.0,800.5 L1502.0,801.8 L1504.0,803.2 L1506.0,804.6 L1508.0,806.0 L1510.0,807.4 L1512.0,808.9 L1514.0,810.4 L1516.0,811.9 L1518.0,813.5 L1520.0,815.1 L1522.0,816.8 L1524.0,818.5 L1526.0,820.2 L1528.0,822.0 L1530.0,823.8 L1532.0,825.6 L1534.0,827.5 L1536.0,829.5 L1538.0,831.4 L1540.0,833.4 L1542.0,835.5 L1544.0,837.6 L1546.0,839.8 L1548.0,841.9 L1550.0,844.2 L1552.0,846.5 L1554.0,848.8 L1556.0,851.2 L1558.0,853.6 L1560.0,856.0 L1562.0,858.6 L1564.0,861.1 L1566.0,863.7 L1568.0,866.4 L1570.0,869.1 L1572.0,871.9 L1574.0,874.7 L1576.0,877.5 L1578.0,880.4 L1580.0,883.4 L1582.0,886.4 L1584.0,889.5 L1586.0,892.6 L1588.0,895.8 L1590.0,899.0 L1592.0,902.3 L1594.0,905.6 L1596.0,909.0 L1598.0,912.4 L1600.0,915.9 L1602.0,919.4 L1604.0,923.0 L1606.0,926.7 L1608.0,930.4 L1610.0,934.1 L1612.0,937.9 L1614.0,941.8 L1616.0,945.7 L1618.0,949.7 L1620.0,953.7 L1622.0,957.8 L1624.0,961.9 L1626.0,966.1 L1628.0,970.3 L1630.0,974.6 L1632.0,979.0 L1634.0,983.4 L1636.0,987.8 L1638.0,992.4 L1640.0,996.9 L1642.0,1001.5 L1644.0,1006.2 L1646.0,1010.9 L1648.0,1015.7 L1650.0,1020.5 L1652.0,1025.4 L1654.0,1030.4 L1656.0,1035.3 L1658.0,1040.4 L1660.0,1045.5 L1662.0,1050.6 L1664.0,1055.8 L1666.0,1061.0 L1668.0,1066.3 L1670.0,1071.7 L1672.0,1077.1 L1674.0,1082.5 L1676.0,1088.0 L1678.0,1093.5 L1680.0,1099.1 L1682.0,1104.8 L1684.0,1110.4 L1686.0,1116.2 L1688.0,1122.0 L1690.0,1127.8 L1692.0,1133.7 L1694.0,1139.6 L1696.0,1145.5 L1698.0,1151.6 L1700.0,1157.6 L1702.0,1163.7 L1704.0,1169.9 L1706.0,1176.0 L1708.0,1182.3 L1710.0,1188.6 L1712.0,1194.9 L1714.0,1201.2 L1716.0,1207.7 L1718.0,1214.1 L1720.0,1220.6 L1722.0,1227.1 L1724.0,1233.7 L1726.0,1240.3 L1728.0,1247.0 L1730.0,1253.7 L1732.0,1260.4 L1734.0,1267.2 L1736.0,1274.0 L1738.0,1280.8 L1740.0,1287.7 L1742.0,1294.6 L1744.0,1301.6 L1746.0,1308.6 L1748.0,1315.6" stroke="#ff00ff"/>
</g>
<g clip-path="url(#pc)">
<rect x="188.2" y="356.6" width="24.5" height="24.5" fill="#000000"/>
<rect x="315.9" y="354.4" width="24.5" height="24.5" fill="#000000"/>
<rect x="447.6" y="354.4" width="24.5" height="24.5" fill="#000000"/>
<rect x="580.4" y="354.6" width="24.5" height="24.5" fill="#000000"/>
<rect x="711.0" y="354.6" width="24.5" height="24.5" fill="#000000"/>
<rect x="839.4" y="354.6" width="24.5" height="24.5" fill="#000000"/>
<rect x="967.8" y="354.6" width="24.5" height="24.5" fill="#000000"/>
<rect x="1098.8" y="354.6" width="24.5" height="24.5" fill="#000000"/>
<rect x="1229.8" y="355.9" width="24.5" height="24.5" fill="#000000"/>
<rect x="1358.3" y="368.8" width="24.5" height="24.5" fill="#000000"/>
<rect x="1489.2" y="446.4" width="24.5" height="24.5" fill="#000000"/>
<rect x="1608.0" y="666.2" width="24.5" height="24.5" fill="#000000"/>
<rect x="1722.2" y="1073.2" width="24.5" height="24.5" fill="#000000"/>
<circle cx="197.0" cy="463.0" r="14" fill="#ff0000"/>
<circle cx="325.1" cy="461.6" r="14" fill="#ff0000"/>
<circle cx="457.5" cy="461.6" r="14" fill="#ff0000"/>
<circle cx="588.1" cy="461.6" r="14" fill="#ff0000"/>
<circle cx="718.8" cy="461.6" r="14" fill="#ff0000"/>
<circle cx="847.6" cy="461.6" r="14" fill="#ff0000"/>
<circle cx="976.5" cy="461.6" r="14" fill="#ff0000"/>
<circle cx="1109.0" cy="461.6" r="14" fill="#ff0000"/>
<circle cx="1238.0" cy="463.2" r="14" fill="#ff0000"/>
<circle cx="1368.7" cy="471.9" r="14" fill="#ff0000"/>
<circle cx="1497.3" cy="536.9" r="14" fill="#ff0000"/>
<circle cx="1615.8" cy="736.9" r="14" fill="#ff0000"/>
<circle cx="1733.5" cy="1124.0" r="14" fill="#ff0000"/>
<polygon points="191.7,553.1 174.9,582.1 208.4,582.1" fill="#0000ff"/>
<polygon points="321.2,551.2 304.4,580.2 337.9,580.2" fill="#0000ff"/>
<polygon points="453.6,551.2 436.9,580.2 470.4,580.2" fill="#0000ff"/>
<polygon points="584.3,551.2 567.5,580.2 601.0,580.2" fill="#0000ff"/>
<polygon points="717.5,551.2 700.8,580.2 734.2,580.2" fill="#0000ff"/>
<polygon points="843.8,551.2 827.0,580.2 860.5,580.2" fill="#0000ff"/>
<polygon points="972.4,551.2 955.6,580.2 989.1,580.2" fill="#0000ff"/>
<polygon points="1104.9,551.2 1088.2,580.2 1121.7,580.2" fill="#0000ff"/>
<polygon points="1234.2,553.2 1217.5,582.2 1251.0,582.2" fill="#0000ff"/>
<polygon points="1364.3,560.3 1347.5,589.3 1381.0,589.3" fill="#0000ff"/>
<polygon points="1493.0,613.0 1476.2,642.0 1509.8,642.0" fill="#0000ff"/>
<polygon points="1615.8,788.0 1599.0,817.0 1632.5,817.0" fill="#0000ff"/>
<polygon points="1732.6,1151.9 1715.8,1180.9 1749.3,1180.9" fill="#0000ff"/>
<polygon points="185.0,682.0 168.2,653.0 201.8,653.0" fill="#008080"/>
<polygon points="316.8,682.0 300.1,653.0 333.6,653.0" fill="#008080"/>
<polygon points="449.8,682.0 433.1,653.0 466.6,653.0" fill="#008080"/>
<polygon points="579.7,682.0 563.0,653.0 596.5,653.0" fill="#008080"/>
<polygon points="710.9,682.0 694.1,653.0 727.6,653.0" fill="#008080"/>
<polygon points="840.0,682.0 823.2,653.0 856.8,653.0" fill="#008080"/>
<polygon points="968.6,682.0 951.9,653.0 985.4,653.0" fill="#008080"/>
<polygon points="1101.6,682.0 1084.8,653.0 1118.3,653.0" fill="#008080"/>
<polygon points="1229.9,683.9 1213.2,654.9 1246.7,654.9" fill="#008080"/>
<polygon points="1359.8,689.3 1343.0,660.3 1376.5,660.3" fill="#008080"/>
<polygon points="1491.5,732.6 1474.8,703.6 1508.2,703.6" fill="#008080"/>
<polygon points="1613.5,888.3 1596.8,859.3 1630.2,859.3" fill="#008080"/>
<polygon points="1731.8,1231.1 1715.0,1202.1 1748.5,1202.1" fill="#008080"/>
<polygon points="160.7,752.9 189.7,736.1 189.7,769.6" fill="#ff00ff"/>
<polygon points="296.0,752.9 325.0,736.1 325.0,769.6" fill="#ff00ff"/>
<polygon points="427.2,752.9 456.2,736.1 456.2,769.6" fill="#ff00ff"/>
<polygon points="557.4,752.9 586.4,736.1 586.4,769.6" fill="#ff00ff"/>
<polygon points="690.3,752.9 719.3,736.1 719.3,769.6" fill="#ff00ff"/>
<polygon points="816.5,752.9 845.5,736.1 845.5,769.6" fill="#ff00ff"/>
<polygon points="947.3,752.9 976.3,736.1 976.3,769.6" fill="#ff00ff"/>
<polygon points="1078.0,752.9 1107.0,736.1 1107.0,769.6" fill="#ff00ff"/>
<polygon points="1209.6,754.7 1238.6,738.0 1238.6,771.5" fill="#ff00ff"/>
<polygon points="1337.4,757.8 1366.4,741.0 1366.4,774.5" fill="#ff00ff"/>
<polygon points="1470.8,794.8 1499.8,778.0 1499.8,811.5" fill="#ff00ff"/>
<polygon points="1589.2,930.7 1618.2,914.0 1618.2,947.5" fill="#ff00ff"/>
<polygon points="1709.4,1253.0 1738.4,1236.2 1738.4,1269.8" fill="#ff00ff"/>
</g>
<g stroke="#000" stroke-width="4.6" fill="none" stroke-linecap="butt">
<rect x="204.0" y="59.6" width="1882.3" height="1243.0"/>
<path d="M204.0,1302.6V1327.1 M204.0,59.6V84.1 M413.1,1302.6V1315.6 M413.1,59.6V72.6 M622.3,1302.6V1327.1 M622.3,59.6V84.1 M831.4,1302.6V1315.6 M831.4,59.6V72.6 M1040.6,1302.6V1327.1 M1040.6,59.6V84.1 M1249.8,1302.6V1315.6 M1249.8,59.6V72.6 M1458.9,1302.6V1327.1 M1458.9,59.6V84.1 M1668.0,1302.6V1315.6 M1668.0,59.6V72.6 M1877.2,1302.6V1327.1 M1877.2,59.6V84.1 M2086.3,1302.6V1315.6 M2086.3,59.6V72.6 M204.0,1302.6H179.5 M2086.3,1302.6H2061.8 M204.0,1199.0H190.5 M2086.3,1199.0H2072.8 M204.0,1095.4H179.5 M2086.3,1095.4H2061.8 M204.0,991.9H190.5 M2086.3,991.9H2072.8 M204.0,888.3H179.5 M2086.3,888.3H2061.8 M204.0,784.7H190.5 M2086.3,784.7H2072.8 M204.0,681.1H179.5 M2086.3,681.1H2061.8 M204.0,577.5H190.5 M2086.3,577.5H2072.8 M204.0,474.0H179.5 M2086.3,474.0H2061.8 M204.0,370.4H190.5 M2086.3,370.4H2072.8 M204.0,266.8H179.5 M2086.3,266.8H2061.8 M204.0,163.2H190.5 M2086.3,163.2H2072.8 M204.0,59.6H179.5 M2086.3,59.6H2061.8" stroke-width="4.4"/>
</g>
<g font-family="'Liberation Sans', Arial, sans-serif" font-size="48" fill="#000">
<text x="204.0" y="1379" text-anchor="middle">0</text>
<text x="622.3" y="1379" text-anchor="middle">10</text>
<text x="1040.6" y="1379" text-anchor="middle">20</text>
<text x="1458.9" y="1379" text-anchor="middle">30</text>
<text x="1877.2" y="1379" text-anchor="middle">40</text>
<text x="165.5" y="1315.9" text-anchor="end" font-size="49.5">0</text>
<text x="165.5" y="1108.7" text-anchor="end" font-size="49.5">2</text>
<text x="165.5" y="901.6" text-anchor="end" font-size="49.5">4</text>
<text x="165.5" y="694.4" text-anchor="end" font-size="49.5">6</text>
<text x="165.5" y="487.3" text-anchor="end" font-size="49.5">8</text>
<text x="165.5" y="280.1" text-anchor="end" font-size="49.5">10</text>
<text x="165.5" y="72.9" text-anchor="end" font-size="49.5">12</text>
</g>
<text x="1145.5" y="1471.4" text-anchor="middle" font-family="'Liberation Sans', Arial, sans-serif" font-size="58">Voltage [V]</text>
<text transform="translate(70.9,719) rotate(-90)" text-anchor="middle" font-family="'Liberation Sans', Arial, sans-serif" font-size="58">Current [A]</text>
<g font-family="'Noto Sans CJK KR', 'Liberation Sans', sans-serif" font-weight="bold" font-size="48.4" text-anchor="middle" fill="#000">
<text x="1255" y="1199">Voltage mismatch by</text>
<text x="1255" y="1257">non-uniformity of irradiance</text>
</g>
<line x1="1589.5" y1="1211.2" x2="1705" y2="1311" stroke="#de0000" stroke-width="4.6" stroke-linecap="round"/>
<polygon points="1714,1298 1694,1322.4 1717.5,1322.6" fill="#de0000"/>
<line x1="1748" y1="1323.8" x2="1784" y2="1323.8" stroke="#ff0000" stroke-width="3.6"/>
<polygon points="1735.4,1323.8 1750,1315.8 1750,1331.8" fill="#ff0000"/>
<polygon points="1796.2,1323.8 1781.6,1315.8 1781.6,1331.8" fill="#ff0000"/>
<rect x="1617" y="89.5" width="458" height="423" fill="#000"/>
<rect x="1599.3" y="71.9" width="458" height="422.5" fill="#fff" stroke="#6e6e6e" stroke-width="3"/>
<line x1="1631" y1="133.3" x2="1763" y2="133.3" stroke="#000000" stroke-width="3"/>
<rect x="1685.0" y="121.3" width="24" height="24" fill="#000000"/>
<text x="1776.5" y="152.8" font-family="'Liberation Sans', Arial, sans-serif" font-size="58">1000W/m<tspan font-size="36" dy="-30">2</tspan></text>
<line x1="1631" y1="215.4" x2="1763" y2="215.4" stroke="#ff0000" stroke-width="3"/>
<circle cx="1697.0" cy="215.4" r="13.5" fill="#ff0000"/>
<text x="1775.8" y="234.9" font-family="'Liberation Sans', Arial, sans-serif" font-size="58">900W/m<tspan font-size="36" dy="-30">2</tspan></text>
<line x1="1631" y1="297.5" x2="1763" y2="297.5" stroke="#0000ff" stroke-width="3"/>
<polygon points="1697.0,279.0 1681.0,306.7 1713.0,306.7" fill="#0000ff"/>
<text x="1775.8" y="317.0" font-family="'Liberation Sans', Arial, sans-serif" font-size="58">800W/m<tspan font-size="36" dy="-30">2</tspan></text>
<line x1="1631" y1="379.6" x2="1763" y2="379.6" stroke="#008080" stroke-width="3"/>
<polygon points="1697.0,398.1 1681.0,370.4 1713.0,370.4" fill="#008080"/>
<text x="1775.8" y="399.1" font-family="'Liberation Sans', Arial, sans-serif" font-size="58">700W/m<tspan font-size="36" dy="-30">2</tspan></text>
<line x1="1631" y1="461.7" x2="1763" y2="461.7" stroke="#ff00ff" stroke-width="3"/>
<polygon points="1678.5,461.7 1706.2,445.7 1706.2,477.7" fill="#ff00ff"/>
<text x="1775.8" y="481.2" font-family="'Liberation Sans', Arial, sans-serif" font-size="58">600W/m<tspan font-size="36" dy="-30">2</tspan></text>
</svg></body></html>
